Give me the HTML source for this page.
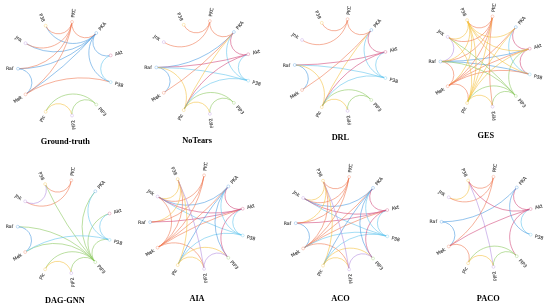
<!DOCTYPE html>
<html><head><meta charset="utf-8"><style>
html,body{margin:0;padding:0;background:#fff;}
svg{display:block;}
.lbl text{font-family:"DejaVu Sans","Liberation Sans",sans-serif;font-size:4.6px;fill:#444;stroke:#444;stroke-width:0.12px;}
.ttl{font-family:"Liberation Serif","Times New Roman",serif;font-weight:bold;font-size:8.3px;fill:#000;}
</style></head><body>
<svg width="550" height="308" viewBox="0 0 550 308">
<g fill="none" stroke-width="0.72" stroke-opacity="0.82"><path d="M96.27,33.00A103.57,103.57 0 0 1 18.00,68.75" stroke="#4a9be0"/><path d="M96.27,33.00A328.98,328.98 0 0 1 25.51,94.32" stroke="#4a9be0"/><path d="M96.27,33.00A54.59,54.59 0 0 1 25.51,43.18" stroke="#4a9be0"/><path d="M96.27,33.00A30.40,30.40 0 0 1 45.65,25.72" stroke="#4a9be0"/><path d="M96.27,33.00A13.89,13.89 0 0 0 110.68,55.42" stroke="#4a9be0"/><path d="M96.27,33.00A30.40,30.40 0 0 0 110.68,82.08" stroke="#4a9be0"/><path d="M72.03,21.93A54.59,54.59 0 0 1 18.00,68.75" stroke="#f07a55"/><path d="M72.03,21.93A103.57,103.57 0 0 1 25.51,94.32" stroke="#f07a55"/><path d="M72.03,21.93A30.40,30.40 0 0 1 25.51,43.18" stroke="#f07a55"/><path d="M72.03,21.93A13.89,13.89 0 0 1 45.65,25.72" stroke="#f07a55"/><path d="M72.03,21.93A13.89,13.89 0 0 0 96.27,33.00" stroke="#f07a55"/><path d="M18.00,68.75A13.89,13.89 0 0 1 25.51,94.32" stroke="#4a9be0"/><path d="M25.51,94.32A103.57,103.57 0 0 1 110.68,82.08" stroke="#f07a55"/><path d="M110.68,82.08A13.89,13.89 0 0 1 110.68,55.42" stroke="#62c6ee"/><path d="M45.65,111.78A13.89,13.89 0 0 1 72.03,115.57" stroke="#f5c242"/><path d="M96.27,104.50A30.40,30.40 0 0 0 45.65,111.78" stroke="#8cc860"/><path d="M96.27,104.50A13.89,13.89 0 0 0 72.03,115.57" stroke="#8cc860"/></g><g fill="#fff" stroke-width="0.55" stroke-opacity="0.6"><circle cx="18.00" cy="68.75" r="1.45" stroke="#4a9be0"/><circle cx="25.51" cy="94.32" r="1.45" stroke="#f07a55"/><circle cx="45.65" cy="111.78" r="1.45" stroke="#f5c242"/><circle cx="72.03" cy="115.57" r="1.45" stroke="#b48ee0"/><circle cx="96.27" cy="104.50" r="1.45" stroke="#8cc860"/><circle cx="110.68" cy="82.08" r="1.45" stroke="#62c6ee"/><circle cx="110.68" cy="55.42" r="1.45" stroke="#d24a7c"/><circle cx="96.27" cy="33.00" r="1.45" stroke="#4a9be0"/><circle cx="72.03" cy="21.93" r="1.45" stroke="#f07a55"/><circle cx="45.65" cy="25.72" r="1.45" stroke="#f5c242"/><circle cx="25.51" cy="43.18" r="1.45" stroke="#b48ee0"/></g><g class="lbl"><text x="13.50" y="68.75" transform="rotate(-0.00 13.50 68.75)" text-anchor="end" dy="0.35em">Raf</text><text x="21.72" y="96.76" transform="rotate(-32.73 21.72 96.76)" text-anchor="end" dy="0.35em">Mek</text><text x="43.78" y="115.87" transform="rotate(-65.45 43.78 115.87)" text-anchor="end" dy="0.35em">Plc</text><text x="72.67" y="120.02" transform="rotate(-98.18 72.67 120.02)" text-anchor="end" dy="0.35em">PIP2</text><text x="99.22" y="107.90" transform="rotate(-310.91 99.22 107.90)" text-anchor="start" dy="0.35em">PIP3</text><text x="115.00" y="83.34" transform="rotate(-343.64 115.00 83.34)" text-anchor="start" dy="0.35em">P38</text><text x="115.00" y="54.16" transform="rotate(-16.36 115.00 54.16)" text-anchor="start" dy="0.35em">Akt</text><text x="99.22" y="29.60" transform="rotate(-49.09 99.22 29.60)" text-anchor="start" dy="0.35em">PKA</text><text x="72.67" y="17.48" transform="rotate(-81.82 72.67 17.48)" text-anchor="start" dy="0.35em">PKC</text><text x="43.78" y="21.63" transform="rotate(65.45 43.78 21.63)" text-anchor="end" dy="0.35em">P38</text><text x="21.72" y="40.74" transform="rotate(32.73 21.72 40.74)" text-anchor="end" dy="0.35em">Jnk</text></g><text class="ttl" x="65.30" y="143.60" text-anchor="middle">Ground-truth</text><g fill="none" stroke-width="0.72" stroke-opacity="0.82"><path d="M209.87,21.03A13.77,13.77 0 0 1 183.72,24.79" stroke="#f07a55"/><path d="M209.87,21.03A30.14,30.14 0 0 1 163.75,42.09" stroke="#f07a55"/><path d="M209.87,21.03A13.77,13.77 0 0 0 233.91,32.01" stroke="#f07a55"/><path d="M156.30,67.45A13.77,13.77 0 0 1 163.75,92.81" stroke="#4a9be0"/><path d="M156.30,67.45A102.70,102.70 0 0 0 233.91,32.01" stroke="#4a9be0"/><path d="M248.20,54.24A326.20,326.20 0 0 1 156.30,67.45" stroke="#d24a7c"/><path d="M248.20,80.66A326.20,326.20 0 0 0 156.30,67.45" stroke="#62c6ee"/><path d="M183.72,110.11A30.14,30.14 0 0 0 156.30,67.45" stroke="#f5c242"/><path d="M163.75,92.81A326.20,326.20 0 0 0 233.91,32.01" stroke="#f07a55"/><path d="M183.72,110.11A326.20,326.20 0 0 1 233.91,32.01" stroke="#f5c242"/><path d="M248.20,80.66A30.14,30.14 0 0 1 233.91,32.01" stroke="#62c6ee"/><path d="M248.20,54.24A13.77,13.77 0 0 1 233.91,32.01" stroke="#d24a7c"/><path d="M248.20,54.24A102.70,102.70 0 0 0 183.72,110.11" stroke="#d24a7c"/><path d="M248.20,80.66A54.13,54.13 0 0 0 183.72,110.11" stroke="#62c6ee"/><path d="M248.20,80.66A13.77,13.77 0 0 1 248.20,54.24" stroke="#62c6ee"/><path d="M233.91,102.89A30.14,30.14 0 0 0 183.72,110.11" stroke="#8cc860"/><path d="M233.91,102.89A13.77,13.77 0 0 0 209.87,113.87" stroke="#8cc860"/><path d="M183.72,110.11A13.77,13.77 0 0 1 209.87,113.87" stroke="#f5c242"/></g><g fill="#fff" stroke-width="0.55" stroke-opacity="0.6"><circle cx="156.30" cy="67.45" r="1.45" stroke="#4a9be0"/><circle cx="163.75" cy="92.81" r="1.45" stroke="#f07a55"/><circle cx="183.72" cy="110.11" r="1.45" stroke="#f5c242"/><circle cx="209.87" cy="113.87" r="1.45" stroke="#b48ee0"/><circle cx="233.91" cy="102.89" r="1.45" stroke="#8cc860"/><circle cx="248.20" cy="80.66" r="1.45" stroke="#62c6ee"/><circle cx="248.20" cy="54.24" r="1.45" stroke="#d24a7c"/><circle cx="233.91" cy="32.01" r="1.45" stroke="#4a9be0"/><circle cx="209.87" cy="21.03" r="1.45" stroke="#f07a55"/><circle cx="183.72" cy="24.79" r="1.45" stroke="#f5c242"/><circle cx="163.75" cy="42.09" r="1.45" stroke="#b48ee0"/></g><g class="lbl"><text x="151.80" y="67.45" transform="rotate(-0.00 151.80 67.45)" text-anchor="end" dy="0.35em">Raf</text><text x="159.96" y="95.24" transform="rotate(-32.73 159.96 95.24)" text-anchor="end" dy="0.35em">Mek</text><text x="181.85" y="114.21" transform="rotate(-65.45 181.85 114.21)" text-anchor="end" dy="0.35em">Plc</text><text x="210.51" y="118.33" transform="rotate(-98.18 210.51 118.33)" text-anchor="end" dy="0.35em">PIP2</text><text x="236.86" y="106.30" transform="rotate(-310.91 236.86 106.30)" text-anchor="start" dy="0.35em">PIP3</text><text x="252.52" y="81.93" transform="rotate(-343.64 252.52 81.93)" text-anchor="start" dy="0.35em">P38</text><text x="252.52" y="52.97" transform="rotate(-16.36 252.52 52.97)" text-anchor="start" dy="0.35em">Akt</text><text x="236.86" y="28.60" transform="rotate(-49.09 236.86 28.60)" text-anchor="start" dy="0.35em">PKA</text><text x="210.51" y="16.57" transform="rotate(-81.82 210.51 16.57)" text-anchor="start" dy="0.35em">PKC</text><text x="181.85" y="20.69" transform="rotate(65.45 181.85 20.69)" text-anchor="end" dy="0.35em">P38</text><text x="159.96" y="39.66" transform="rotate(32.73 159.96 39.66)" text-anchor="end" dy="0.35em">Jnk</text></g><text class="ttl" x="197.20" y="143.10" text-anchor="middle">NoTears</text><g fill="none" stroke-width="0.72" stroke-opacity="0.82"><path d="M347.59,19.17A13.59,13.59 0 0 1 321.77,22.88" stroke="#f07a55"/><path d="M347.59,19.17A29.76,29.76 0 0 1 302.05,39.97" stroke="#f07a55"/><path d="M347.59,19.17A13.59,13.59 0 0 0 371.32,30.01" stroke="#f07a55"/><path d="M294.70,65.00A13.59,13.59 0 0 1 302.05,90.03" stroke="#4a9be0"/><path d="M385.42,51.96A322.02,322.02 0 0 1 294.70,65.00" stroke="#d24a7c"/><path d="M385.42,78.04A322.02,322.02 0 0 0 294.70,65.00" stroke="#62c6ee"/><path d="M321.77,107.12A29.76,29.76 0 0 0 294.70,65.00" stroke="#f5c242"/><path d="M302.05,90.03A322.02,322.02 0 0 0 371.32,30.01" stroke="#f07a55"/><path d="M321.77,107.12A322.02,322.02 0 0 1 371.32,30.01" stroke="#f5c242"/><path d="M385.42,78.04A29.76,29.76 0 0 1 371.32,30.01" stroke="#62c6ee"/><path d="M385.42,51.96A13.59,13.59 0 0 1 371.32,30.01" stroke="#d24a7c"/><path d="M385.42,51.96A101.38,101.38 0 0 0 321.77,107.12" stroke="#d24a7c"/><path d="M385.42,78.04A53.43,53.43 0 0 0 321.77,107.12" stroke="#62c6ee"/><path d="M385.42,78.04A13.59,13.59 0 0 1 385.42,51.96" stroke="#62c6ee"/><path d="M371.32,99.99A29.76,29.76 0 0 0 321.77,107.12" stroke="#8cc860"/><path d="M371.32,99.99A13.59,13.59 0 0 0 347.59,110.83" stroke="#8cc860"/><path d="M321.77,107.12A13.59,13.59 0 0 1 347.59,110.83" stroke="#f5c242"/></g><g fill="#fff" stroke-width="0.55" stroke-opacity="0.6"><circle cx="294.70" cy="65.00" r="1.45" stroke="#4a9be0"/><circle cx="302.05" cy="90.03" r="1.45" stroke="#f07a55"/><circle cx="321.77" cy="107.12" r="1.45" stroke="#f5c242"/><circle cx="347.59" cy="110.83" r="1.45" stroke="#b48ee0"/><circle cx="371.32" cy="99.99" r="1.45" stroke="#8cc860"/><circle cx="385.42" cy="78.04" r="1.45" stroke="#62c6ee"/><circle cx="385.42" cy="51.96" r="1.45" stroke="#d24a7c"/><circle cx="371.32" cy="30.01" r="1.45" stroke="#4a9be0"/><circle cx="347.59" cy="19.17" r="1.45" stroke="#f07a55"/><circle cx="321.77" cy="22.88" r="1.45" stroke="#f5c242"/><circle cx="302.05" cy="39.97" r="1.45" stroke="#b48ee0"/></g><g class="lbl"><text x="290.20" y="65.00" transform="rotate(-0.00 290.20 65.00)" text-anchor="end" dy="0.35em">Raf</text><text x="298.26" y="92.46" transform="rotate(-32.73 298.26 92.46)" text-anchor="end" dy="0.35em">Mek</text><text x="319.90" y="111.21" transform="rotate(-65.45 319.90 111.21)" text-anchor="end" dy="0.35em">Plc</text><text x="348.23" y="115.28" transform="rotate(-98.18 348.23 115.28)" text-anchor="end" dy="0.35em">PIP2</text><text x="374.27" y="103.39" transform="rotate(-310.91 374.27 103.39)" text-anchor="start" dy="0.35em">PIP3</text><text x="389.74" y="79.31" transform="rotate(-343.64 389.74 79.31)" text-anchor="start" dy="0.35em">P38</text><text x="389.74" y="50.69" transform="rotate(-16.36 389.74 50.69)" text-anchor="start" dy="0.35em">Akt</text><text x="374.27" y="26.61" transform="rotate(-49.09 374.27 26.61)" text-anchor="start" dy="0.35em">PKA</text><text x="348.23" y="14.72" transform="rotate(-81.82 348.23 14.72)" text-anchor="start" dy="0.35em">PKC</text><text x="319.90" y="18.79" transform="rotate(65.45 319.90 18.79)" text-anchor="end" dy="0.35em">P38</text><text x="298.26" y="37.54" transform="rotate(32.73 298.26 37.54)" text-anchor="end" dy="0.35em">Jnk</text></g><text class="ttl" x="340.40" y="140.40" text-anchor="middle">DRL</text><g fill="none" stroke-width="0.72" stroke-opacity="0.82"><path d="M447.66,36.91A13.38,13.38 0 0 1 440.43,61.55" stroke="#b48ee0"/><path d="M447.66,86.19A13.38,13.38 0 0 0 440.43,61.55" stroke="#f07a55"/><path d="M447.66,86.19A13.38,13.38 0 0 1 467.07,103.00" stroke="#f07a55"/><path d="M467.07,103.00A13.38,13.38 0 0 1 492.49,106.66" stroke="#f5c242"/><path d="M515.84,95.99A13.38,13.38 0 0 0 492.49,106.66" stroke="#8cc860"/><path d="M529.72,48.71A13.38,13.38 0 0 0 529.72,74.39" stroke="#d24a7c"/><path d="M529.72,48.71A13.38,13.38 0 0 1 515.84,27.11" stroke="#d24a7c"/><path d="M492.49,16.44A13.38,13.38 0 0 1 467.07,20.10" stroke="#f07a55"/><path d="M467.07,20.10A13.38,13.38 0 0 1 447.66,36.91" stroke="#f5c242"/><path d="M529.72,74.39A29.29,29.29 0 0 1 515.84,27.11" stroke="#62c6ee"/><path d="M467.07,20.10A29.29,29.29 0 0 0 515.84,27.11" stroke="#f5c242"/><path d="M515.84,95.99A29.29,29.29 0 0 1 529.72,48.71" stroke="#8cc860"/><path d="M440.43,61.55A316.95,316.95 0 0 0 529.72,48.71" stroke="#4a9be0"/><path d="M440.43,61.55A316.95,316.95 0 0 1 529.72,74.39" stroke="#4a9be0"/><path d="M492.49,16.44A316.95,316.95 0 0 0 492.49,106.66" stroke="#f07a55"/><path d="M492.49,16.44A99.78,99.78 0 0 1 447.66,86.19" stroke="#f07a55"/><path d="M492.49,16.44A52.59,52.59 0 0 1 440.43,61.55" stroke="#f07a55"/><path d="M467.07,20.10A52.59,52.59 0 0 1 447.66,86.19" stroke="#f5c242"/><path d="M467.07,20.10A99.78,99.78 0 0 1 467.07,103.00" stroke="#f5c242"/><path d="M467.07,20.10A29.29,29.29 0 0 1 440.43,61.55" stroke="#f5c242"/><path d="M467.07,20.10A52.59,52.59 0 0 0 529.72,48.71" stroke="#f5c242"/><path d="M467.07,20.10A99.78,99.78 0 0 0 529.72,74.39" stroke="#f5c242"/><path d="M447.66,86.19A316.95,316.95 0 0 0 515.84,27.11" stroke="#f07a55"/><path d="M447.66,86.19A316.95,316.95 0 0 1 529.72,48.71" stroke="#f07a55"/><path d="M447.66,86.19A99.78,99.78 0 0 1 529.72,74.39" stroke="#f07a55"/><path d="M467.07,103.00A316.95,316.95 0 0 1 515.84,27.11" stroke="#f5c242"/><path d="M467.07,103.00A99.78,99.78 0 0 1 529.72,48.71" stroke="#f5c242"/><path d="M467.07,103.00A52.59,52.59 0 0 0 447.66,36.91" stroke="#f5c242"/><path d="M467.07,103.00A316.95,316.95 0 0 0 492.49,16.44" stroke="#f5c242"/><path d="M515.84,95.99A316.95,316.95 0 0 0 447.66,36.91" stroke="#8cc860"/><path d="M515.84,95.99A99.78,99.78 0 0 0 440.43,61.55" stroke="#8cc860"/><path d="M515.84,95.99A29.29,29.29 0 0 0 467.07,103.00" stroke="#8cc860"/><path d="M492.49,16.44A29.29,29.29 0 0 1 447.66,36.91" stroke="#f07a55"/></g><g fill="#fff" stroke-width="0.55" stroke-opacity="0.6"><circle cx="440.43" cy="61.55" r="1.45" stroke="#4a9be0"/><circle cx="447.66" cy="86.19" r="1.45" stroke="#f07a55"/><circle cx="467.07" cy="103.00" r="1.45" stroke="#f5c242"/><circle cx="492.49" cy="106.66" r="1.45" stroke="#b48ee0"/><circle cx="515.84" cy="95.99" r="1.45" stroke="#8cc860"/><circle cx="529.72" cy="74.39" r="1.45" stroke="#62c6ee"/><circle cx="529.72" cy="48.71" r="1.45" stroke="#d24a7c"/><circle cx="515.84" cy="27.11" r="1.45" stroke="#4a9be0"/><circle cx="492.49" cy="16.44" r="1.45" stroke="#f07a55"/><circle cx="467.07" cy="20.10" r="1.45" stroke="#f5c242"/><circle cx="447.66" cy="36.91" r="1.45" stroke="#b48ee0"/></g><g class="lbl"><text x="435.93" y="61.55" transform="rotate(-0.00 435.93 61.55)" text-anchor="end" dy="0.35em">Raf</text><text x="443.88" y="88.62" transform="rotate(-32.73 443.88 88.62)" text-anchor="end" dy="0.35em">Mek</text><text x="465.20" y="107.10" transform="rotate(-65.45 465.20 107.10)" text-anchor="end" dy="0.35em">Plc</text><text x="493.13" y="111.11" transform="rotate(-98.18 493.13 111.11)" text-anchor="end" dy="0.35em">PIP2</text><text x="518.79" y="99.39" transform="rotate(-310.91 518.79 99.39)" text-anchor="start" dy="0.35em">PIP3</text><text x="534.04" y="75.66" transform="rotate(-343.64 534.04 75.66)" text-anchor="start" dy="0.35em">P38</text><text x="534.04" y="47.44" transform="rotate(-16.36 534.04 47.44)" text-anchor="start" dy="0.35em">Akt</text><text x="518.79" y="23.71" transform="rotate(-49.09 518.79 23.71)" text-anchor="start" dy="0.35em">PKA</text><text x="493.13" y="11.99" transform="rotate(-81.82 493.13 11.99)" text-anchor="start" dy="0.35em">PKC</text><text x="465.20" y="16.00" transform="rotate(65.45 465.20 16.00)" text-anchor="end" dy="0.35em">P38</text><text x="443.88" y="34.48" transform="rotate(32.73 443.88 34.48)" text-anchor="end" dy="0.35em">Jnk</text></g><text class="ttl" x="485.80" y="138.20" text-anchor="middle">GES</text><g fill="none" stroke-width="0.72" stroke-opacity="0.82"><path d="M71.27,180.31A13.76,13.76 0 0 1 45.13,184.07" stroke="#f07a55"/><path d="M71.27,180.31A30.12,30.12 0 0 1 25.17,201.36" stroke="#f07a55"/><path d="M25.17,201.36A13.76,13.76 0 0 0 45.13,184.07" stroke="#b48ee0"/><path d="M95.29,262.12A325.99,325.99 0 0 1 45.13,184.07" stroke="#8cc860"/><path d="M95.29,262.12A102.63,102.63 0 0 0 17.73,226.70" stroke="#8cc860"/><path d="M95.29,262.12A54.09,54.09 0 0 0 25.17,252.04" stroke="#8cc860"/><path d="M95.29,262.12A54.09,54.09 0 0 1 95.29,191.28" stroke="#8cc860"/><path d="M95.29,262.12A30.12,30.12 0 0 1 109.57,213.50" stroke="#8cc860"/><path d="M95.29,262.12A13.76,13.76 0 0 1 109.57,239.90" stroke="#8cc860"/><path d="M95.29,262.12A13.76,13.76 0 0 0 71.27,273.09" stroke="#8cc860"/><path d="M95.29,262.12A30.12,30.12 0 0 0 45.13,269.33" stroke="#8cc860"/><path d="M17.73,226.70A13.76,13.76 0 0 1 25.17,252.04" stroke="#4a9be0"/><path d="M109.57,239.90A102.63,102.63 0 0 0 25.17,252.04" stroke="#62c6ee"/><path d="M109.57,239.90A13.76,13.76 0 0 1 109.57,213.50" stroke="#62c6ee"/><path d="M109.57,239.90A30.12,30.12 0 0 1 95.29,191.28" stroke="#62c6ee"/><path d="M45.13,269.33A13.76,13.76 0 0 1 71.27,273.09" stroke="#f5c242"/></g><g fill="#fff" stroke-width="0.55" stroke-opacity="0.6"><circle cx="17.73" cy="226.70" r="1.45" stroke="#4a9be0"/><circle cx="25.17" cy="252.04" r="1.45" stroke="#f07a55"/><circle cx="45.13" cy="269.33" r="1.45" stroke="#f5c242"/><circle cx="71.27" cy="273.09" r="1.45" stroke="#b48ee0"/><circle cx="95.29" cy="262.12" r="1.45" stroke="#8cc860"/><circle cx="109.57" cy="239.90" r="1.45" stroke="#62c6ee"/><circle cx="109.57" cy="213.50" r="1.45" stroke="#d24a7c"/><circle cx="95.29" cy="191.28" r="1.45" stroke="#4a9be0"/><circle cx="71.27" cy="180.31" r="1.45" stroke="#f07a55"/><circle cx="45.13" cy="184.07" r="1.45" stroke="#f5c242"/><circle cx="25.17" cy="201.36" r="1.45" stroke="#b48ee0"/></g><g class="lbl"><text x="13.23" y="226.70" transform="rotate(-0.00 13.23 226.70)" text-anchor="end" dy="0.35em">Raf</text><text x="21.38" y="254.47" transform="rotate(-32.73 21.38 254.47)" text-anchor="end" dy="0.35em">Mek</text><text x="43.26" y="273.43" transform="rotate(-65.45 43.26 273.43)" text-anchor="end" dy="0.35em">Plc</text><text x="71.91" y="277.55" transform="rotate(-98.18 71.91 277.55)" text-anchor="end" dy="0.35em">PIP2</text><text x="98.24" y="265.52" transform="rotate(-310.91 98.24 265.52)" text-anchor="start" dy="0.35em">PIP3</text><text x="113.89" y="241.17" transform="rotate(-343.64 113.89 241.17)" text-anchor="start" dy="0.35em">P38</text><text x="113.89" y="212.23" transform="rotate(-16.36 113.89 212.23)" text-anchor="start" dy="0.35em">Akt</text><text x="98.24" y="187.88" transform="rotate(-49.09 98.24 187.88)" text-anchor="start" dy="0.35em">PKA</text><text x="71.91" y="175.85" transform="rotate(-81.82 71.91 175.85)" text-anchor="start" dy="0.35em">PKC</text><text x="43.26" y="179.97" transform="rotate(65.45 43.26 179.97)" text-anchor="end" dy="0.35em">P38</text><text x="21.38" y="198.93" transform="rotate(32.73 21.38 198.93)" text-anchor="end" dy="0.35em">Jnk</text></g><text class="ttl" x="64.90" y="302.90" text-anchor="middle">DAG-GNN</text><g fill="none" stroke-width="0.72" stroke-opacity="0.82"><path d="M177.71,179.10A13.88,13.88 0 0 1 157.58,196.54" stroke="#f5c242"/><path d="M204.08,175.31A30.38,30.38 0 0 1 157.58,196.54" stroke="#f07a55"/><path d="M228.31,186.38A54.55,54.55 0 0 1 157.58,196.54" stroke="#4a9be0"/><path d="M242.71,235.42A328.77,328.77 0 0 1 157.58,196.54" stroke="#62c6ee"/><path d="M242.71,208.78A103.51,103.51 0 0 1 157.58,196.54" stroke="#d24a7c"/><path d="M157.58,247.66A30.38,30.38 0 0 0 157.58,196.54" stroke="#f07a55"/><path d="M177.71,179.10A30.38,30.38 0 0 1 150.08,222.10" stroke="#f5c242"/><path d="M204.08,175.31A54.55,54.55 0 0 1 150.08,222.10" stroke="#f07a55"/><path d="M242.71,208.78A328.77,328.77 0 0 1 150.08,222.10" stroke="#d24a7c"/><path d="M157.58,247.66A54.55,54.55 0 0 0 177.71,179.10" stroke="#f07a55"/><path d="M157.58,247.66A103.51,103.51 0 0 0 204.08,175.31" stroke="#f07a55"/><path d="M157.58,247.66A328.77,328.77 0 0 0 228.31,186.38" stroke="#f07a55"/><path d="M157.58,247.66A328.77,328.77 0 0 1 242.71,208.78" stroke="#f07a55"/><path d="M157.58,247.66A30.38,30.38 0 0 1 204.08,268.89" stroke="#f07a55"/><path d="M177.71,179.10A103.51,103.51 0 0 1 177.71,265.10" stroke="#f5c242"/><path d="M228.31,186.38A328.77,328.77 0 0 0 177.71,265.10" stroke="#4a9be0"/><path d="M242.71,235.42A54.55,54.55 0 0 0 177.71,265.10" stroke="#62c6ee"/><path d="M177.71,265.10A13.88,13.88 0 0 1 204.08,268.89" stroke="#f5c242"/><path d="M177.71,265.10A30.38,30.38 0 0 1 228.31,257.82" stroke="#f5c242"/><path d="M204.08,268.89A328.77,328.77 0 0 0 177.71,179.10" stroke="#b48ee0"/><path d="M204.08,268.89A13.88,13.88 0 0 1 228.31,257.82" stroke="#b48ee0"/><path d="M228.31,186.38A54.55,54.55 0 0 0 228.31,257.82" stroke="#4a9be0"/><path d="M242.71,208.78A30.38,30.38 0 0 0 228.31,257.82" stroke="#d24a7c"/><path d="M242.71,235.42A13.88,13.88 0 0 1 242.71,208.78" stroke="#62c6ee"/><path d="M242.71,235.42A30.38,30.38 0 0 1 228.31,186.38" stroke="#62c6ee"/><path d="M242.71,208.78A13.88,13.88 0 0 1 228.31,186.38" stroke="#d24a7c"/></g><g fill="#fff" stroke-width="0.55" stroke-opacity="0.6"><circle cx="150.08" cy="222.10" r="1.45" stroke="#4a9be0"/><circle cx="157.58" cy="247.66" r="1.45" stroke="#f07a55"/><circle cx="177.71" cy="265.10" r="1.45" stroke="#f5c242"/><circle cx="204.08" cy="268.89" r="1.45" stroke="#b48ee0"/><circle cx="228.31" cy="257.82" r="1.45" stroke="#8cc860"/><circle cx="242.71" cy="235.42" r="1.45" stroke="#62c6ee"/><circle cx="242.71" cy="208.78" r="1.45" stroke="#d24a7c"/><circle cx="228.31" cy="186.38" r="1.45" stroke="#4a9be0"/><circle cx="204.08" cy="175.31" r="1.45" stroke="#f07a55"/><circle cx="177.71" cy="179.10" r="1.45" stroke="#f5c242"/><circle cx="157.58" cy="196.54" r="1.45" stroke="#b48ee0"/></g><g class="lbl"><text x="145.58" y="222.10" transform="rotate(-0.00 145.58 222.10)" text-anchor="end" dy="0.35em">Raf</text><text x="153.80" y="250.09" transform="rotate(-32.73 153.80 250.09)" text-anchor="end" dy="0.35em">Mek</text><text x="175.84" y="269.19" transform="rotate(-65.45 175.84 269.19)" text-anchor="end" dy="0.35em">Plc</text><text x="204.72" y="273.34" transform="rotate(-98.18 204.72 273.34)" text-anchor="end" dy="0.35em">PIP2</text><text x="231.25" y="261.23" transform="rotate(-310.91 231.25 261.23)" text-anchor="start" dy="0.35em">PIP3</text><text x="247.02" y="236.69" transform="rotate(-343.64 247.02 236.69)" text-anchor="start" dy="0.35em">P38</text><text x="247.02" y="207.51" transform="rotate(-16.36 247.02 207.51)" text-anchor="start" dy="0.35em">Akt</text><text x="231.25" y="182.97" transform="rotate(-49.09 231.25 182.97)" text-anchor="start" dy="0.35em">PKA</text><text x="204.72" y="170.86" transform="rotate(-81.82 204.72 170.86)" text-anchor="start" dy="0.35em">PKC</text><text x="175.84" y="175.01" transform="rotate(65.45 175.84 175.01)" text-anchor="end" dy="0.35em">P38</text><text x="153.80" y="194.11" transform="rotate(32.73 153.80 194.11)" text-anchor="end" dy="0.35em">Jnk</text></g><text class="ttl" x="197.00" y="301.40" text-anchor="middle">AIA</text><g fill="none" stroke-width="0.72" stroke-opacity="0.82"><path d="M323.05,180.72A13.71,13.71 0 0 1 303.16,197.95" stroke="#f5c242"/><path d="M349.10,176.98A30.01,30.01 0 0 1 303.16,197.95" stroke="#f07a55"/><path d="M373.03,187.91A53.89,53.89 0 0 1 303.16,197.95" stroke="#4a9be0"/><path d="M387.26,236.36A324.81,324.81 0 0 1 303.16,197.95" stroke="#62c6ee"/><path d="M387.26,210.04A102.26,102.26 0 0 1 303.16,197.95" stroke="#d24a7c"/><path d="M295.75,223.20A13.71,13.71 0 0 1 303.16,248.45" stroke="#4a9be0"/><path d="M323.05,180.72A30.01,30.01 0 0 1 295.75,223.20" stroke="#f5c242"/><path d="M349.10,176.98A53.89,53.89 0 0 1 295.75,223.20" stroke="#f07a55"/><path d="M387.26,210.04A324.81,324.81 0 0 1 295.75,223.20" stroke="#d24a7c"/><path d="M349.10,176.98A13.71,13.71 0 0 1 323.05,180.72" stroke="#f07a55"/><path d="M303.16,248.45A53.89,53.89 0 0 0 323.05,180.72" stroke="#f07a55"/><path d="M303.16,248.45A102.26,102.26 0 0 0 349.10,176.98" stroke="#f07a55"/><path d="M303.16,248.45A324.81,324.81 0 0 0 373.03,187.91" stroke="#f07a55"/><path d="M303.16,248.45A324.81,324.81 0 0 1 387.26,210.04" stroke="#f07a55"/><path d="M303.16,248.45A30.01,30.01 0 0 1 349.10,269.42" stroke="#f07a55"/><path d="M387.26,236.36A102.26,102.26 0 0 0 303.16,248.45" stroke="#62c6ee"/><path d="M323.05,180.72A102.26,102.26 0 0 1 323.05,265.68" stroke="#f5c242"/><path d="M373.03,187.91A324.81,324.81 0 0 0 323.05,265.68" stroke="#4a9be0"/><path d="M387.26,236.36A53.89,53.89 0 0 0 323.05,265.68" stroke="#62c6ee"/><path d="M323.05,265.68A13.71,13.71 0 0 1 349.10,269.42" stroke="#f5c242"/><path d="M323.05,265.68A30.01,30.01 0 0 1 373.03,258.49" stroke="#f5c242"/><path d="M349.10,269.42A324.81,324.81 0 0 0 323.05,180.72" stroke="#b48ee0"/><path d="M349.10,269.42A13.71,13.71 0 0 1 373.03,258.49" stroke="#b48ee0"/><path d="M373.03,187.91A53.89,53.89 0 0 0 373.03,258.49" stroke="#4a9be0"/><path d="M387.26,210.04A30.01,30.01 0 0 0 373.03,258.49" stroke="#d24a7c"/><path d="M387.26,236.36A13.71,13.71 0 0 1 387.26,210.04" stroke="#62c6ee"/><path d="M387.26,236.36A30.01,30.01 0 0 1 373.03,187.91" stroke="#62c6ee"/><path d="M387.26,210.04A13.71,13.71 0 0 1 373.03,187.91" stroke="#d24a7c"/></g><g fill="#fff" stroke-width="0.55" stroke-opacity="0.6"><circle cx="295.75" cy="223.20" r="1.45" stroke="#4a9be0"/><circle cx="303.16" cy="248.45" r="1.45" stroke="#f07a55"/><circle cx="323.05" cy="265.68" r="1.45" stroke="#f5c242"/><circle cx="349.10" cy="269.42" r="1.45" stroke="#b48ee0"/><circle cx="373.03" cy="258.49" r="1.45" stroke="#8cc860"/><circle cx="387.26" cy="236.36" r="1.45" stroke="#62c6ee"/><circle cx="387.26" cy="210.04" r="1.45" stroke="#d24a7c"/><circle cx="373.03" cy="187.91" r="1.45" stroke="#4a9be0"/><circle cx="349.10" cy="176.98" r="1.45" stroke="#f07a55"/><circle cx="323.05" cy="180.72" r="1.45" stroke="#f5c242"/><circle cx="303.16" cy="197.95" r="1.45" stroke="#b48ee0"/></g><g class="lbl"><text x="291.25" y="223.20" transform="rotate(-0.00 291.25 223.20)" text-anchor="end" dy="0.35em">Raf</text><text x="299.38" y="250.88" transform="rotate(-32.73 299.38 250.88)" text-anchor="end" dy="0.35em">Mek</text><text x="321.18" y="269.77" transform="rotate(-65.45 321.18 269.77)" text-anchor="end" dy="0.35em">Plc</text><text x="349.74" y="273.88" transform="rotate(-98.18 349.74 273.88)" text-anchor="end" dy="0.35em">PIP2</text><text x="375.98" y="261.89" transform="rotate(-310.91 375.98 261.89)" text-anchor="start" dy="0.35em">PIP3</text><text x="391.58" y="237.62" transform="rotate(-343.64 391.58 237.62)" text-anchor="start" dy="0.35em">P38</text><text x="391.58" y="208.78" transform="rotate(-16.36 391.58 208.78)" text-anchor="start" dy="0.35em">Akt</text><text x="375.98" y="184.51" transform="rotate(-49.09 375.98 184.51)" text-anchor="start" dy="0.35em">PKA</text><text x="349.74" y="172.52" transform="rotate(-81.82 349.74 172.52)" text-anchor="start" dy="0.35em">PKC</text><text x="321.18" y="176.63" transform="rotate(65.45 321.18 176.63)" text-anchor="end" dy="0.35em">P38</text><text x="299.38" y="195.52" transform="rotate(32.73 299.38 195.52)" text-anchor="end" dy="0.35em">Jnk</text></g><text class="ttl" x="340.40" y="301.40" text-anchor="middle">ACO</text><g fill="none" stroke-width="0.72" stroke-opacity="0.82"><path d="M493.47,176.84A13.35,13.35 0 0 1 468.11,180.49" stroke="#f07a55"/><path d="M468.11,180.49A13.35,13.35 0 0 1 448.75,197.27" stroke="#f5c242"/><path d="M493.47,176.84A29.22,29.22 0 0 1 448.75,197.27" stroke="#f07a55"/><path d="M493.47,266.86A316.25,316.25 0 0 0 468.11,180.49" stroke="#b48ee0"/><path d="M441.53,221.85A13.35,13.35 0 0 1 448.75,246.43" stroke="#4a9be0"/><path d="M441.53,221.85A99.57,99.57 0 0 0 516.78,187.49" stroke="#4a9be0"/><path d="M448.75,246.43A13.35,13.35 0 0 1 468.11,263.21" stroke="#f07a55"/><path d="M448.75,246.43A99.57,99.57 0 0 0 493.47,176.84" stroke="#f07a55"/><path d="M530.63,209.04A316.25,316.25 0 0 0 448.75,246.43" stroke="#d24a7c"/><path d="M530.63,209.04A52.48,52.48 0 0 1 468.11,180.49" stroke="#d24a7c"/><path d="M530.63,209.04A13.35,13.35 0 0 1 516.78,187.49" stroke="#d24a7c"/><path d="M530.63,234.66A13.35,13.35 0 0 1 530.63,209.04" stroke="#62c6ee"/><path d="M516.78,187.49A29.22,29.22 0 0 0 530.63,234.66" stroke="#4a9be0"/><path d="M530.63,209.04A29.22,29.22 0 0 0 516.78,256.21" stroke="#d24a7c"/><path d="M516.78,256.21A29.22,29.22 0 0 0 468.11,263.21" stroke="#8cc860"/><path d="M516.78,256.21A13.35,13.35 0 0 0 493.47,266.86" stroke="#8cc860"/><path d="M468.11,263.21A13.35,13.35 0 0 1 493.47,266.86" stroke="#f5c242"/></g><g fill="#fff" stroke-width="0.55" stroke-opacity="0.6"><circle cx="441.53" cy="221.85" r="1.45" stroke="#4a9be0"/><circle cx="448.75" cy="246.43" r="1.45" stroke="#f07a55"/><circle cx="468.11" cy="263.21" r="1.45" stroke="#f5c242"/><circle cx="493.47" cy="266.86" r="1.45" stroke="#b48ee0"/><circle cx="516.78" cy="256.21" r="1.45" stroke="#8cc860"/><circle cx="530.63" cy="234.66" r="1.45" stroke="#62c6ee"/><circle cx="530.63" cy="209.04" r="1.45" stroke="#d24a7c"/><circle cx="516.78" cy="187.49" r="1.45" stroke="#4a9be0"/><circle cx="493.47" cy="176.84" r="1.45" stroke="#f07a55"/><circle cx="468.11" cy="180.49" r="1.45" stroke="#f5c242"/><circle cx="448.75" cy="197.27" r="1.45" stroke="#b48ee0"/></g><g class="lbl"><text x="437.03" y="221.85" transform="rotate(-0.00 437.03 221.85)" text-anchor="end" dy="0.35em">Raf</text><text x="444.96" y="248.87" transform="rotate(-32.73 444.96 248.87)" text-anchor="end" dy="0.35em">Mek</text><text x="466.24" y="267.30" transform="rotate(-65.45 466.24 267.30)" text-anchor="end" dy="0.35em">Plc</text><text x="494.11" y="271.31" transform="rotate(-98.18 494.11 271.31)" text-anchor="end" dy="0.35em">PIP2</text><text x="519.72" y="259.61" transform="rotate(-310.91 519.72 259.61)" text-anchor="start" dy="0.35em">PIP3</text><text x="534.95" y="235.93" transform="rotate(-343.64 534.95 235.93)" text-anchor="start" dy="0.35em">P38</text><text x="534.95" y="207.77" transform="rotate(-16.36 534.95 207.77)" text-anchor="start" dy="0.35em">Akt</text><text x="519.72" y="184.09" transform="rotate(-49.09 519.72 184.09)" text-anchor="start" dy="0.35em">PKA</text><text x="494.11" y="172.39" transform="rotate(-81.82 494.11 172.39)" text-anchor="start" dy="0.35em">PKC</text><text x="466.24" y="176.40" transform="rotate(65.45 466.24 176.40)" text-anchor="end" dy="0.35em">P38</text><text x="444.96" y="194.83" transform="rotate(32.73 444.96 194.83)" text-anchor="end" dy="0.35em">Jnk</text></g><text class="ttl" x="488.20" y="301.40" text-anchor="middle">PACO</text>
</svg>
</body></html>
